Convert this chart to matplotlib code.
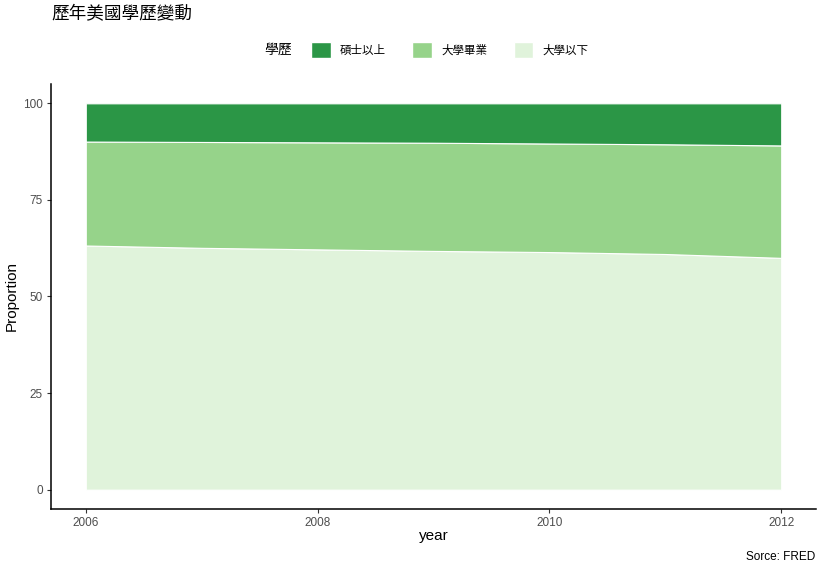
import matplotlib
matplotlib.use("Agg")
import matplotlib.pyplot as plt
from matplotlib.patches import Patch

plt.rcParams['font.family'] = ['Liberation Sans', 'Noto Sans CJK TC', 'DejaVu Sans']

years = [2006, 2007, 2008, 2009, 2010, 2011, 2012]
below_college = [63.2, 62.6, 62.2, 61.8, 61.5, 61.0, 60.0]
college_grad = [26.9, 27.4, 27.7, 28.0, 28.1, 28.4, 29.1]
master_plus = [9.9, 10.0, 10.1, 10.2, 10.4, 10.6, 10.9]
labels = ['大學以下', '大學畢業', '碩士以上']
colors = ['#e0f3db', '#96d38a', '#2b9646']

fig = plt.figure(figsize=(8.23, 5.71), dpi=100)
ax = fig.add_axes([51/823, 1-509/571, (816-51)/823, (509-84)/571])

ax.stackplot(years, below_college, college_grad, master_plus,
             colors=colors, edgecolor='white', linewidth=0.8)
ax.set_xlim(2006-0.3, 2012+0.3)
ax.set_ylim(-5, 105)
ax.set_xticks([2006, 2008, 2010, 2012])
ax.set_yticks([0, 25, 50, 75, 100])
for s in ['top', 'right']:
    ax.spines[s].set_visible(False)
for s in ['left', 'bottom']:
    ax.spines[s].set_linewidth(1.1)
    ax.spines[s].set_color('black')
ax.tick_params(axis='both', length=3, width=0.8, color='#333333',
               labelcolor='#4d4d4d', labelsize=8.5, pad=3)
ax.set_xlabel('year', fontsize=11, labelpad=0)
ax.set_ylabel('Proportion', fontsize=11, labelpad=3)

fig.text(51/823, 1-15/571, '歷年美國學歷變動', fontsize=12.7, ha='left', va='center')
fig.text(815/823, 1-557/571, 'Sorce: FRED', fontsize=8.5, ha='right', va='center')

fig.text(264/823, 1-50/571, '學歷', fontsize=10, ha='left', va='center')
handles = [Patch(facecolor=colors[2], edgecolor='white', label=labels[2]),
           Patch(facecolor=colors[1], edgecolor='white', label=labels[1]),
           Patch(facecolor=colors[0], edgecolor='white', label=labels[0])]
fig.legend(handles=handles, loc='center left', bbox_to_anchor=(303/823, 1-50/571),
           ncol=3, frameon=False, fontsize=8.3, handlelength=1.7, handleheight=1.8,
           handletextpad=0.8, columnspacing=2.3, borderpad=0.2)

fig.savefig('out.png', dpi=100)
